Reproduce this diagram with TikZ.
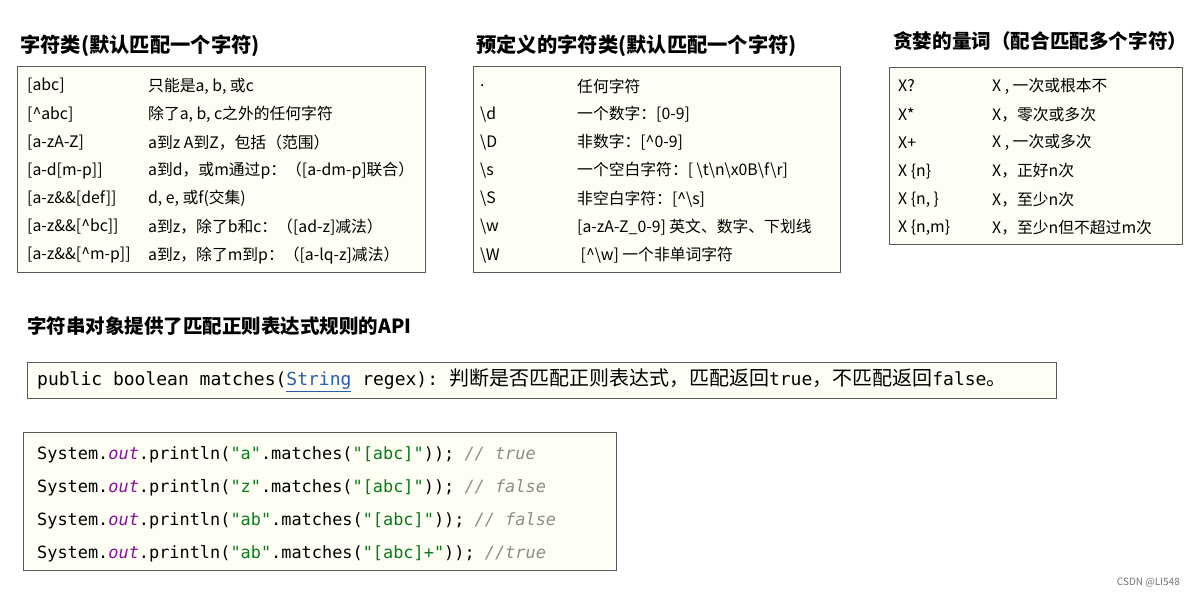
\documentclass[tikz,border=0pt]{standalone}
\usepackage{fontspec}
\setmainfont{Noto Sans CJK SC}
\setmonofont{DejaVu Sans Mono}
\newfontfamily\cjk{Noto Sans CJK SC}
\begin{document}
\begin{tikzpicture}[x=1pt,y=-1pt,
  tbox/.style={draw=black!65,fill=yellow!4!white,line width=0.8pt},
  txt/.style={anchor=west,inner sep=0pt,font=\fontsize{15.8}{17}\selectfont},
  ttl/.style={anchor=west,inner sep=0pt,font=\fontsize{20.3}{22}\selectfont\bfseries},
  code/.style={anchor=west,inner sep=0pt,font=\fontsize{16.9}{18}\ttfamily}]
\definecolor{kw}{HTML}{871094}
\definecolor{strc}{HTML}{067D17}
\definecolor{cmt}{HTML}{8C8C8C}
\definecolor{lnk}{HTML}{2A5DB0}
\useasboundingbox[fill=white] (0,0) rectangle (1194,597);
% box 1
\node[ttl] (t1) at (20,46) {字符类(默认匹配一个字符)};
\draw[tbox] (17,66) rectangle (425,272);
\foreach \i/\a/\b in {0/{[abc]}/{只能是a, b, 或c},1/{[\^{}abc]}/{除了a, b, c之外的任何字符},2/{[a-zA-Z]}/{a到z A到Z，包括（范围）},3/{[a-d[m-p]]}/{a到d，或m通过p：（[a-dm-p]联合）},4/{[a-z\&\&[def]]}/{d, e, 或f(交集)},5/{[a-z\&\&[\^{}bc]]}/{a到z，除了b和c：（[ad-z]减法）},6/{[a-z\&\&[\^{}m-p]]}/{a到z，除了m到p：（[a-lq-z]减法）}}{
  \node[txt] (a\i) at (27,86+28.2*\i) {\a};
  \node[txt] (b\i) at (148,86+28.2*\i) {\b};
}
% box 2
\node[ttl] (t2) at (476,46) {预定义的字符类(默认匹配一个字符)};
\draw[tbox] (473,66) rectangle (840,272);
\foreach \i/\a/\b in {0/{.}/{任何字符},1/{\textbackslash d}/{一个数字：[0-9]},2/{\textbackslash D}/{非数字：[\^{}0-9]},3/{\textbackslash s}/{一个空白字符：[ \textbackslash t\textbackslash n\textbackslash x0B\textbackslash f\textbackslash r]},4/{\textbackslash S}/{非空白字符：[\^{}\textbackslash s]},5/{\textbackslash w}/{[a-zA-Z\_0-9] 英文、数字、下划线},6/{\textbackslash W}/{\ [\^{}\textbackslash w] 一个非单词字符}}{
  \node[txt] (c\i) at (480,86+28.2*\i) {\a};
  \node[txt] (d\i) at (577,86+28.2*\i) {\b};
}
% box 3
\node[ttl,font=\fontsize{19.6}{21}\selectfont\bfseries] (t3) at (893,41) {贪婪的量词（配合匹配多个字符）};
\draw[tbox] (889,67) rectangle (1182,244);
\foreach \i/\a/\b in {0/{X?}/{X , 一次或根本不},1/{X*}/{X，零次或多次},2/{X+}/{X , 一次或多次},3/{X \{n\}}/{X，正好n次},4/{X \{n, \}}/{X，至少n次},5/{X \{n,m\}}/{X，至少n但不超过m次}}{
  \node[txt] (e\i) at (898,86+28.4*\i) {\a};
  \node[txt] (f\i) at (992,86+28.4*\i) {\b};
}
% API
\node[ttl,font=\fontsize{19.5}{21}\selectfont\bfseries] (t4) at (27,326) {字符串对象提供了匹配正则表达式规则的API};
\draw[tbox] (27,362) rectangle (1056,398);
\node[code,font=\fontsize{18}{20}\ttfamily] (api) at (37,380) {public boolean matches(\textcolor{lnk}{\underline{String}}~regex):~{\cjk\fontsize{20}{21}\selectfont 判断是否匹配正则表达式，匹配返回}true{\cjk\fontsize{20}{21}\selectfont ，不匹配返回}false{\cjk\fontsize{20}{21}\selectfont 。}};
% code
\draw[tbox] (23,432) rectangle (616,570);
\foreach \i/\s/\p/\c in {0/a/{[abc]}/{// true},1/z/{[abc]}/{// false},2/ab/{[abc]}/{// false},3/ab/{[abc]+}/{//true}}{
  \node[code] (g\i) at (37,455+33*\i) {System.\textcolor{kw}{\textit{out}}.println(\textcolor{strc}{"\s"}.matches(\textcolor{strc}{"\p"}));~\textcolor{cmt}{\textit{\c}}};
}
\node[anchor=east,inner sep=0pt,text=black!55,font=\fontsize{10}{12}\selectfont] (wm) at (1180,583) {CSDN @LI548};
\end{tikzpicture}
\end{document}
